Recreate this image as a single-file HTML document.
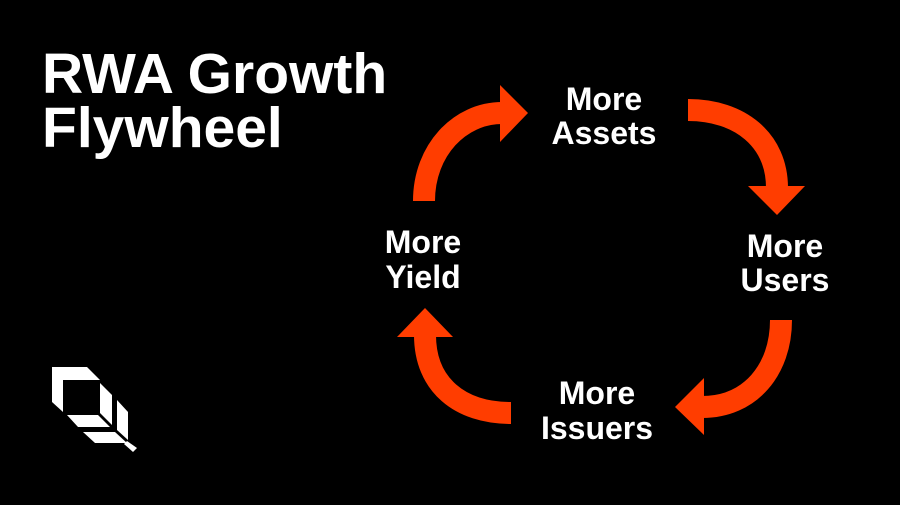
<!DOCTYPE html>
<html><head><meta charset="utf-8"><style>
html,body{margin:0;padding:0;background:#000;}
svg{display:block}
text{font-family:"Liberation Sans",Arial,sans-serif;font-weight:bold;fill:#fff}
</style></head><body>
<svg width="900" height="505" viewBox="0 0 900 505" xmlns="http://www.w3.org/2000/svg">
<rect width="900" height="505" fill="#000"/>
<text x="42" y="93" font-size="57">RWA Growth</text>
<text x="42" y="147" font-size="57">Flywheel</text>
<g fill="none" stroke="#ff3d00" stroke-width="22">
<path d="M424 201 C424 150 460 113 502 113"/>
<path d="M688 110 C740 110 777 140 777 188"/>
<path d="M781 320 C781 370 750 407 702 407"/>
<path d="M511 413 C460 413 425 385 425 335"/>
</g>
<g fill="#ff3d00">
<polygon points="500,85 528,113 500,142"/>
<polygon points="748,186 805,186 777,215"/>
<polygon points="704,378 704,435 675,407"/>
<polygon points="397,337 453,337 425,308"/>
</g>
<g font-size="32" text-anchor="middle">
<text x="604" y="110">More</text><text x="604" y="144">Assets</text>
<text x="785" y="257">More</text><text x="785" y="291">Users</text>
<text x="597" y="404">More</text><text x="597" y="439">Issuers</text>
<text x="423" y="253">More</text><text x="423" y="288">Yield</text>
</g>
<g fill="#fff">
<polygon points="52,367 87,367 100,380 63,380 63,412 52,402"/>
<polygon points="100,383 112,395 112,425 100,413"/>
<polygon points="67,415 98,415 110,427 78,427"/>
<polygon points="117,400 128,412 128,440 117,430"/>
<polygon points="83,432 115,432 127,443 95,443"/>
<polygon points="127,441 137,448 133,452 124,444"/>
</g>
</svg>
</body></html>
